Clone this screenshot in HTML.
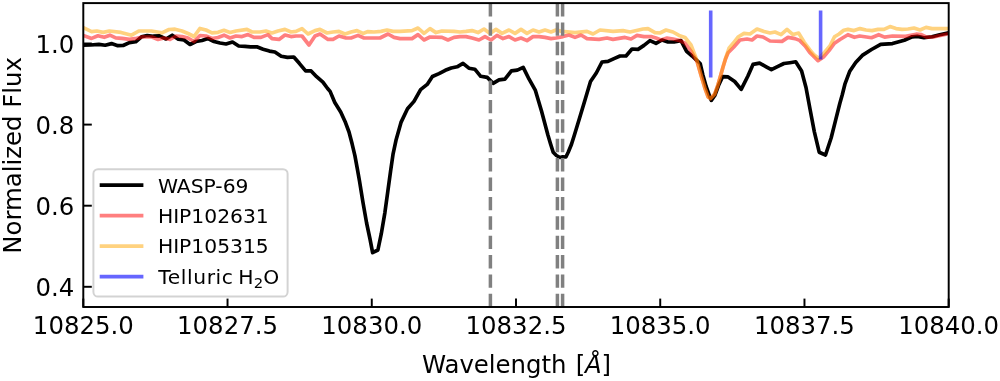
<!DOCTYPE html>
<html><head><meta charset="utf-8"><title>Normalized Flux vs Wavelength</title>
<style>html,body{margin:0;padding:0;background:#fff;}svg{display:block;}</style>
</head><body>
<svg width="1000" height="381" viewBox="0 0 1000 381">
<rect width="1000" height="381" fill="#fff"/>
<defs><clipPath id="c"><rect x="83.3" y="3.1" width="865.4" height="303.9"/></clipPath></defs>
<g clip-path="url(#c)" fill="none" stroke-linejoin="round">
<polyline points="83.3,45.2 90.5,45.0 98.9,44.4 105.2,45.2 111.5,43.6 117.8,45.7 123.1,45.5 129.4,42.6 135.7,41.8 141.5,36.8 147.2,35.5 153.3,36.2 159.5,35.8 166.0,39.0 172.2,35.2 178.3,39.2 184.0,40.0 190.0,44.5 196.0,41.5 202.0,40.5 208.0,38.5 214.0,41.5 220.0,43.0 226.0,44.0 232.5,42.0 238.7,46.0 245.0,46.3 250.5,46.8 256.8,46.8 263.1,49.2 269.4,51.1 274.9,52.0 281.2,56.3 287.5,57.4 293.8,57.0 299.3,63.3 305.6,70.9 311.1,70.9 316.6,76.7 322.9,82.2 327.6,88.5 330.1,91.4 334.8,102.5 340.7,111.9 345.5,122.6 349.0,132.0 352.1,143.8 354.9,155.7 357.3,168.7 359.5,181.0 362.9,202.0 366.6,223.0 370.0,239.0 372.6,252.6 377.9,250.0 381.3,233.7 384.9,212.6 387.8,191.6 390.6,171.0 393.1,153.8 396.2,139.4 401.0,122.4 407.5,108.8 414.0,101.4 420.6,89.6 427.2,84.4 432.4,76.5 439.0,73.6 445.3,70.3 451.2,68.0 457.1,66.8 463.0,63.3 468.9,68.2 474.8,69.2 480.7,76.3 487.2,77.4 493.1,83.3 499.0,79.8 504.9,79.2 511.4,70.9 517.3,70.1 523.2,67.4 529.1,79.2 535.4,90.4 541.5,111.0 547.9,135.0 550.5,143.7 553.2,152.3 556.4,155.5 560.0,157.5 562.7,156.8 565.9,157.0 568.2,152.3 571.4,144.5 574.4,135.0 579.5,118.3 585.0,100.0 590.5,81.5 596.3,73.0 602.0,62.0 608.0,61.4 614.0,58.6 620.0,56.0 626.0,56.0 632.0,49.0 638.0,49.4 644.0,45.4 650.0,40.6 656.0,43.4 662.0,40.0 668.0,42.0 674.0,42.0 681.0,40.6 686.6,51.3 692.1,56.0 697.6,61.2 700.2,63.5 702.8,74.7 706.1,86.5 709.4,95.6 711.3,100.4 714.8,95.5 718.5,85.5 722.6,76.7 728.1,76.9 734.7,81.5 741.2,89.4 747.8,76.2 753.0,64.4 759.6,63.1 766.2,66.8 771.4,69.7 778.0,66.4 783.9,63.5 789.8,62.7 795.7,61.8 801.6,71.0 806.0,87.5 810.1,109.5 814.3,131.6 819.2,152.2 825.5,155.0 831.2,137.7 835.5,120.6 839.8,103.5 842.2,95.0 844.9,84.2 849.6,71.6 855.7,62.5 862.3,55.4 871.5,49.5 880.7,44.3 892.5,43.6 904.3,40.3 912.2,36.8 917.4,36.4 924.0,37.7 931.9,36.8 939.7,34.7 948.7,32.9" stroke="#000" stroke-width="3.67"/>
<polyline points="83.3,35.5 91.6,38.4 97.9,35.8 104.2,37.3 109.9,35.2 115.7,37.9 122.0,38.4 129.4,39.4 136.7,38.4 143.0,36.8 146.0,37.0 152.0,37.0 158.0,39.5 164.0,38.0 170.0,39.5 176.0,36.0 182.0,36.5 188.0,38.0 194.0,41.5 200.0,35.5 206.0,36.0 212.0,38.5 218.0,37.5 224.0,35.2 230.0,38.0 236.0,36.0 242.0,36.6 248.0,34.6 254.0,37.4 261.0,37.4 268.0,34.6 272.0,38.6 279.0,39.4 285.0,35.0 291.0,36.6 296.0,36.0 302.0,36.0 309.0,45.0 315.0,36.0 320.0,34.0 328.0,39.4 333.0,39.4 339.0,36.0 346.0,38.0 351.0,38.0 358.0,35.4 364.0,38.0 370.0,38.0 380.0,38.0 388.0,34.0 394.0,37.4 400.0,38.6 412.0,38.6 418.0,34.6 424.0,40.0 430.0,37.0 442.0,37.4 448.0,40.0 454.0,37.4 460.0,36.6 466.0,36.6 472.0,38.0 479.0,40.0 485.0,36.6 491.0,40.0 497.0,35.4 503.0,38.6 509.0,36.6 515.0,40.0 521.0,38.0 527.0,40.6 533.0,36.6 539.0,36.6 545.0,37.4 551.0,38.6 556.0,38.0 563.0,36.6 569.0,35.0 575.0,37.4 581.0,35.0 587.0,38.6 599.0,39.4 607.0,38.0 613.0,39.4 625.0,37.4 631.0,39.0 637.0,35.4 644.0,36.6 651.0,36.6 656.0,38.0 661.0,40.0 667.0,38.0 673.0,39.0 680.0,40.6 685.0,43.2 691.0,51.0 697.0,61.5 700.9,74.7 704.8,87.8 708.1,96.9 710.5,98.6 714.6,94.3 717.9,85.1 720.5,76.0 723.1,66.8 725.5,59.0 728.1,52.8 733.6,47.3 740.0,40.0 747.0,39.0 752.0,40.0 757.0,36.0 763.0,37.0 770.0,41.0 782.0,41.4 788.0,37.4 795.0,38.6 799.6,40.4 805.1,46.0 809.7,52.4 814.3,57.0 818.0,60.7 823.5,57.0 829.0,50.6 834.5,43.2 840.0,39.5 847.9,34.7 854.4,37.3 859.7,36.0 871.5,37.7 878.7,34.7 884.6,37.1 892.5,36.0 905.6,36.4 916.1,34.2 921.4,34.7 926.6,37.1 934.5,36.8 948.7,33.8" stroke="rgba(255,0,0,0.5)" stroke-width="3.67"/>
<polyline points="83.3,27.6 91.6,31.6 96.8,31.0 103.1,32.4 109.4,31.0 121.0,32.4 131.5,35.2 138.8,31.0 151.4,31.0 161.9,32.8 169.0,29.5 175.0,29.2 182.0,31.0 188.0,33.5 194.0,36.5 200.0,28.4 206.0,30.0 212.0,32.8 218.0,32.3 224.0,30.3 230.0,32.5 236.0,31.0 247.0,29.4 252.0,32.0 260.0,32.0 266.0,31.0 272.0,33.0 278.0,31.0 285.0,29.4 291.0,32.0 296.0,31.4 302.0,28.6 308.0,34.0 315.0,30.6 320.0,29.4 327.0,33.0 333.0,32.0 339.0,31.4 345.0,34.0 351.0,32.0 357.0,30.6 363.0,33.4 368.0,31.6 374.0,32.0 381.0,31.4 387.0,30.0 393.0,31.4 400.0,31.4 412.0,30.6 418.0,28.0 424.0,33.4 430.0,28.6 436.0,32.6 442.0,31.0 454.0,31.4 460.0,32.0 466.0,31.4 472.0,30.6 478.0,32.6 484.0,29.0 490.0,33.4 496.0,29.4 502.0,33.4 509.0,30.0 515.0,33.4 521.0,29.4 527.0,33.4 533.0,30.0 539.0,32.0 545.0,30.0 551.0,32.0 556.0,30.0 562.0,31.4 575.0,32.6 587.0,31.4 593.0,34.0 600.0,30.0 613.0,31.4 623.0,30.6 630.0,32.0 643.0,29.0 648.0,28.6 655.0,32.6 660.0,33.0 666.0,30.0 673.0,32.0 679.0,35.4 685.0,37.4 691.0,45.0 697.0,60.5 700.9,74.7 704.8,87.8 708.1,96.9 710.5,98.6 714.6,94.3 717.9,85.1 720.5,76.0 723.1,66.8 725.8,57.6 729.0,48.3 733.6,42.8 738.0,37.0 744.0,33.4 750.0,34.0 757.0,29.0 764.0,31.4 770.0,33.0 775.0,32.0 781.0,34.6 787.0,29.4 793.0,34.6 798.7,33.1 804.2,42.3 809.7,49.6 814.3,55.1 818.9,58.5 824.4,52.4 829.9,46.0 834.5,36.8 839.1,34.0 843.7,30.3 848.0,29.4 854.0,30.6 860.0,28.6 866.0,30.0 872.0,30.6 878.0,29.4 884.0,29.4 890.0,26.6 896.0,28.6 902.0,29.4 908.0,29.0 914.0,28.0 920.0,30.0 926.0,27.4 932.0,28.6 940.0,28.6 948.7,28.6" stroke="rgba(255,165,0,0.5)" stroke-width="3.67"/>
<line x1="490.4" y1="307.25" x2="490.4" y2="3.1" stroke="#808080" stroke-width="3.5" stroke-dasharray="13.4 5.99"/>
<line x1="557.4" y1="307.25" x2="557.4" y2="3.1" stroke="#808080" stroke-width="3.5" stroke-dasharray="13.4 5.99"/>
<line x1="562.6" y1="307.25" x2="562.6" y2="3.1" stroke="#808080" stroke-width="3.5" stroke-dasharray="13.4 5.99"/>
<line x1="710.7" y1="10.6" x2="710.7" y2="77.6" stroke="rgba(0,0,255,0.6)" stroke-width="3.6"/>
<line x1="820.6" y1="10.6" x2="820.6" y2="59.5" stroke="rgba(0,0,255,0.6)" stroke-width="3.6"/>
</g>
<g stroke="#000" stroke-width="1.96">
<line x1="83.30" y1="307.05" x2="83.30" y2="298.6"/>
<line x1="227.53" y1="307.05" x2="227.53" y2="298.6"/>
<line x1="371.77" y1="307.05" x2="371.77" y2="298.6"/>
<line x1="516.00" y1="307.05" x2="516.00" y2="298.6"/>
<line x1="660.23" y1="307.05" x2="660.23" y2="298.6"/>
<line x1="804.47" y1="307.05" x2="804.47" y2="298.6"/>
<line x1="948.70" y1="307.05" x2="948.70" y2="298.6"/>
<line x1="83.3" y1="43.5" x2="91.8" y2="43.5"/>
<line x1="83.3" y1="124.6" x2="91.8" y2="124.6"/>
<line x1="83.3" y1="205.7" x2="91.8" y2="205.7"/>
<line x1="83.3" y1="286.8" x2="91.8" y2="286.8"/>
</g>
<rect x="83.3" y="3.1" width="865.4" height="303.9" fill="none" stroke="#000" stroke-width="1.96" stroke-linejoin="miter" stroke-linecap="square"/>
<rect x="93.4" y="169.2" width="194.2" height="127.4" rx="4.6" fill="rgba(255,255,255,0.8)" stroke="#d3d3d3" stroke-width="1.96"/>
<line x1="99.7" y1="185.2" x2="143.4" y2="185.2" stroke="#000" stroke-width="3.67"/>
<line x1="99.7" y1="215.7" x2="143.4" y2="215.7" stroke="rgba(255,0,0,0.5)" stroke-width="3.67"/>
<line x1="99.7" y1="246.2" x2="143.4" y2="246.2" stroke="rgba(255,165,0,0.5)" stroke-width="3.67"/>
<line x1="99.7" y1="276.7" x2="143.4" y2="276.7" stroke="rgba(0,0,255,0.6)" stroke-width="3.67"/>
<g font-family="&quot;DejaVu Sans&quot;, sans-serif" font-size="20.3" fill="#000">
<text x="157.9" y="193.3">WASP-69</text>
<text x="157.9" y="223.2">HIP102631</text>
<text x="157.9" y="252.9">HIP105315</text>
<text x="158.3" y="284.2"><tspan letter-spacing="0.57">Telluric</tspan><tspan x="238.3">H</tspan><tspan x="253.65" y="287.6" font-size="14.8">2</tspan><tspan x="263.2" y="284.2">O</tspan></text>
</g>
<g font-family="&quot;DejaVu Sans&quot;, sans-serif" font-size="24.4" fill="#000">
<text x="83.30" y="333.7" text-anchor="middle">10825.0</text>
<text x="227.53" y="333.7" text-anchor="middle">10827.5</text>
<text x="371.77" y="333.7" text-anchor="middle">10830.0</text>
<text x="516.00" y="333.7" text-anchor="middle">10832.5</text>
<text x="660.23" y="333.7" text-anchor="middle">10835.0</text>
<text x="804.47" y="333.7" text-anchor="middle">10837.5</text>
<text x="948.70" y="333.7" text-anchor="middle">10840.0</text>
<text x="74.2" y="52.8" text-anchor="end">1.0</text>
<text x="74.2" y="133.9" text-anchor="end">0.8</text>
<text x="74.2" y="215.0" text-anchor="end">0.6</text>
<text x="74.2" y="296.1" text-anchor="end">0.4</text>
<text x="516.5" y="372.6" text-anchor="middle">Wavelength <tspan dx="1.4">[</tspan><tspan font-style="italic" dx="-0.4">Å</tspan>]</text>
<text transform="translate(21,155.4) rotate(-90)" text-anchor="middle">Normalized Flux</text>
</g>
</svg>
</body></html>
